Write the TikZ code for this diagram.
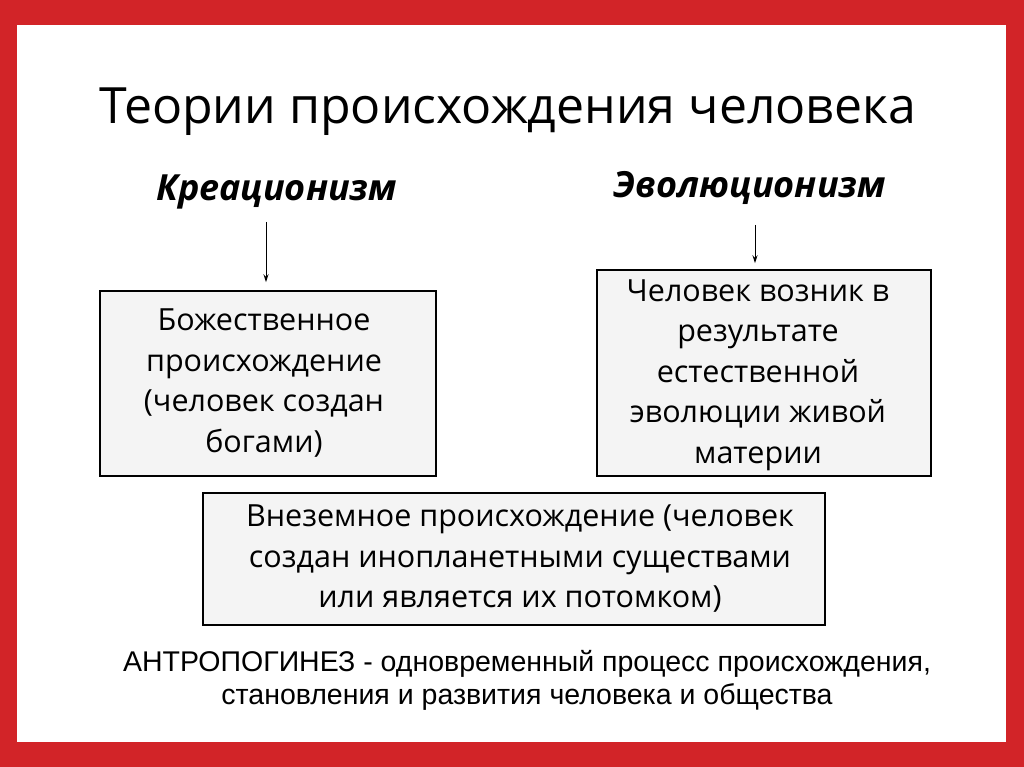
\documentclass[tikz,border=0pt]{standalone}
\usepackage{fontspec}
\usetikzlibrary{arrows.meta}
\setmainfont{Open Sans}
\newfontfamily\arialf{Liberation Sans}
\definecolor{frame}{RGB}{210,36,40}
\begin{document}
\begin{tikzpicture}[x=1pt,y=-1pt,
  bx/.style={draw=black,line width=1.5pt,fill=gray!9,align=center,inner sep=0pt},
  ar/.style={-{Stealth[length=8pt,width=5pt]},line width=0.9pt},
  btxt/.style={align=center,font=\fontsize{30.5}{40.5}\selectfont}]
\fill[frame] (0,0) rectangle (1024,767);
\fill[white] (17,25) rectangle (1006,742);
\useasboundingbox (0,0) rectangle (1024,767);
\node (title) at (508,112) {\fontsize{50}{58}\selectfont Теории происхождения человека};
\node (kre) at (277,192) {\fontsize{36}{42}\selectfont\bfseries\itshape Креационизм};
\node (evo) at (750,188) {\fontsize{36}{42}\selectfont\bfseries\itshape Эволюционизм};
\node[bx,minimum width=336,minimum height=185] (b1) at (268,383.5) {};
\node[btxt] at (264,383) {Божественное\\происхождение\\(человек создан\\богами)};
\node[bx,minimum width=334,minimum height=206] (b2) at (764,373) {};
\node[btxt] at (758,375) {Человек возник в\\результате\\естественной\\эволюции живой\\материи};
\node[bx,minimum width=622,minimum height=132] (b3) at (514,559) {};
\node[btxt] at (520,559) {Внеземное происхождение (человек\\создан инопланетными существами\\или является их потомком)};
\coordinate (k1) at (266,222);
\coordinate (e1) at (755,225);
\draw[ar,shorten >=8pt] (k1) -- (b1.north -| k1);
\draw[ar,shorten >=6pt] (e1) -- (b2.north -| e1);
\node[align=center,font=\arialf\fontsize{28.5}{33}\selectfont] (ant) at (527,680) {АНТРОПОГИНЕЗ - одновременный процесс происхождения,\\становления и развития человека и общества};
\end{tikzpicture}
\end{document}
